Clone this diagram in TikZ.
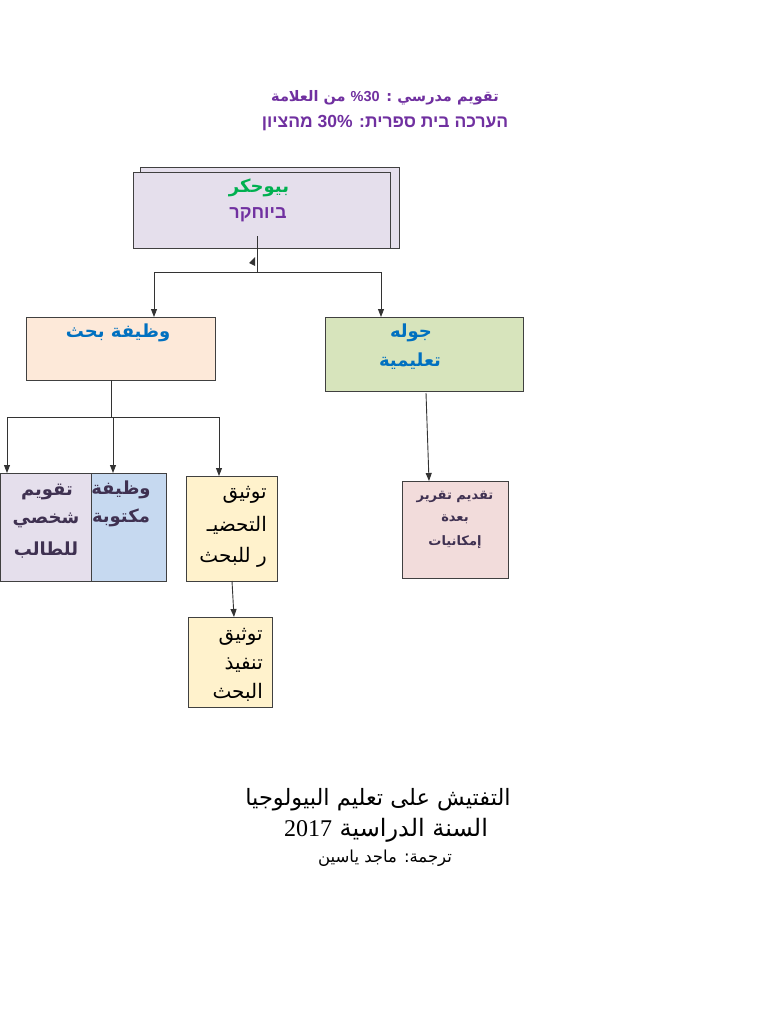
\documentclass[tikz,border=0pt]{standalone}
\usepackage{fontspec}
\usetikzlibrary{arrows.meta}
\newfontfamily\arabicfont[Script=Arabic]{DejaVu Sans}
\newfontfamily\hebrewfont[Script=Hebrew]{Liberation Sans}
\newfontfamily\latinfont{Liberation Sans}
\newfontfamily\digitfont{Liberation Serif}
\TeXXeTstate=1
\newcommand\artx[1]{{\arabicfont\beginR #1\endR}}
\newcommand\hetx[1]{{\hebrewfont\beginR #1\endR}}
\definecolor{purpleT}{HTML}{7030A0}
\definecolor{greenT}{HTML}{00B050}
\definecolor{blueT}{HTML}{0070C0}
\definecolor{darkT}{HTML}{3F3151}
\definecolor{lav}{HTML}{E5DFEC}
\definecolor{peach}{HTML}{FDE9D9}
\definecolor{olive}{HTML}{D7E4BC}
\definecolor{lblue}{HTML}{C6D9F0}
\definecolor{yell}{HTML}{FFF2CC}
\definecolor{pinkB}{HTML}{F2DCDB}
\begin{document}
\begin{tikzpicture}[x=1pt,y=-1pt,
  box/.style={draw=black!75, line width=0.9pt, inner sep=0pt, anchor=north west},
  ln/.style={draw=black!80, line width=0.9pt},
  arr/.style={ln, -{Triangle[width=6pt,length=8pt]}},
  txt/.style={inner sep=0pt, anchor=center},
  mid/.style={font=\fontsize{18}{20}\selectfont\bfseries},
  reg/.style={font=\fontsize{20}{22}\selectfont},
  sml/.style={font=\fontsize{13}{16}\selectfont\bfseries}]
\useasboundingbox[fill=white] (0,0) rectangle (768,1024);

% top title
\node[txt, text=purpleT, font=\fontsize{14.5}{18}\selectfont\bfseries] (t1) at (385,98) {\artx{تقويم مدرسي : \mbox{\latinfont\%30} من العلامة}};
\node[txt, text=purpleT, font=\fontsize{17.5}{20}\selectfont\bfseries] (t2) at (385,123) {\hetx{הערכה בית ספרית: \mbox{\latinfont 30\%} מהציון}};

% main box with shadow
\node[box, fill=lav, minimum width=259pt, minimum height=81pt] (mainsh) at (140,167) {};
\node[box, fill=lav, minimum width=257pt, minimum height=76pt] (main) at (133,172) {};
\node[txt, mid, text=greenT] (m1) at (259,188) {\artx{بيوحكر}};
\node[txt, mid, text=purpleT] (m2) at (258,215) {\hetx{ביוחקר}};

% second level
\node[box, fill=peach, minimum width=189pt, minimum height=63pt] (research) at (26,317) {};
\node[txt, mid, text=blueT] (r1) at (118,333) {\artx{وظيفة بحث}};
\node[box, fill=olive, minimum width=198pt, minimum height=74pt] (tour) at (325,317) {};
\node[txt, mid, text=blueT] (o1) at (411,333) {\artx{جوله}};
\node[txt, mid, text=blueT] (o2) at (410,361) {\artx{تعليمية}};

% third level
\node[box, fill=lav, minimum width=91pt, minimum height=108pt] (self) at (0,473) {};
\node[txt, mid, text=darkT] (s1) at (47,492) {\artx{تقويم}};
\node[txt, mid, text=darkT] (s2) at (46,520) {\artx{شخصي}};
\node[txt, mid, text=darkT] (s3) at (46,550) {\artx{للطالب}};
\node[box, fill=lblue, minimum width=75pt, minimum height=108pt] (written) at (91,473) {};
\node[txt, mid, text=darkT] (w1) at (121,490) {\artx{وظيفة}};
\node[txt, mid, text=darkT] (w2) at (121,518) {\artx{مكتوبة}};

\node[box, fill=yell, minimum width=91pt, minimum height=105pt] (prep) at (186,476) {};
\node[inner sep=0pt, anchor=east, reg] (p1) at (267,495) {\artx{توثيق}};
\node[inner sep=0pt, anchor=east, reg] (p2) at (267,525) {\artx{التحضيـ}};
\node[inner sep=0pt, anchor=east, reg] (p3) at (267,557) {\artx{ر للبحث}};

\node[box, fill=yell, minimum width=84pt, minimum height=90pt] (exec) at (188,617) {};
\node[inner sep=0pt, anchor=east, reg] (e1) at (263,637) {\artx{توثيق}};
\node[inner sep=0pt, anchor=east, reg] (e2) at (263,665) {\artx{تنفيذ}};
\node[inner sep=0pt, anchor=east, reg] (e3) at (263,692) {\artx{البحث}};

\node[box, fill=pinkB, minimum width=106pt, minimum height=97pt] (report) at (402,481) {};
\node[txt, sml, text=darkT] (q1) at (455,497) {\artx{تقديم تقرير}};
\node[txt, sml, text=darkT] (q2) at (455,519) {\artx{بعدة}};
\node[txt, sml, text=darkT] (q3) at (455,542) {\artx{إمكانيات}};

% connectors
\coordinate (mstart) at (257,236);
\coordinate (j1) at (257,272);
\coordinate (rIn) at (154,317);
\coordinate (tIn) at (381,317);
\draw[ln] (mstart) -- (j1);
\draw[arr] (j1) -| (rIn);
\draw[arr] (j1) -| (tIn);
\fill[black!80] (249,263) -- (255,257) -- (255,266) -- cycle;

\coordinate (rOut) at (111,380);
\coordinate (j2) at (111,417);
\coordinate (hl) at (7,417);
\coordinate (hr) at (219,417);
\coordinate (sIn) at (7,473);
\coordinate (wTop) at (113,418);
\coordinate (wIn) at (113,473);
\coordinate (pIn) at (219,476);
\draw[ln] (rOut) -- (j2);
\draw[ln] (hl) -- (hr);
\draw[arr] (hl) -- (sIn);
\draw[arr] (wTop) -- (wIn);
\draw[arr] (hr) -- (pIn);

\coordinate (pOut) at (232,581);
\coordinate (eIn) at (234,617);
\draw[arr] (pOut) -- (eIn);

\coordinate (tOut) at (426,393);
\coordinate (repIn) at (429,481);
\draw[arr] (tOut) -- (repIn);

% bottom caption
\node[txt, font=\fontsize{22.5}{26}\selectfont] (b1) at (378,800) {\artx{التفتيش على تعليم البيولوجيا}};
\node[txt, font=\fontsize{24}{26}\selectfont] (b2) at (386,830) {\artx{السنة الدراسية \mbox{\digitfont 2017}}};
\node[txt, font=\fontsize{16.5}{18}\selectfont] (b3) at (385,858) {\artx{ترجمة: ماجد ياسين}};
\end{tikzpicture}
\end{document}
